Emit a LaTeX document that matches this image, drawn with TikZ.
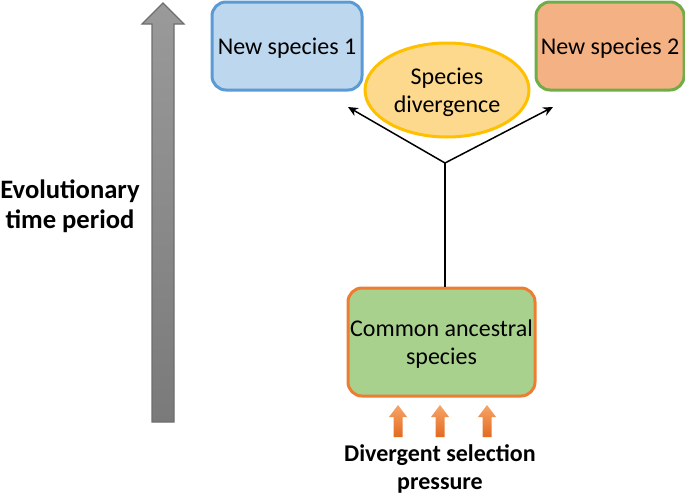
\documentclass[tikz,border=0pt]{standalone}
\usepackage{fontspec}
\setmainfont{Carlito}
\usepackage{tikz}
\usetikzlibrary{positioning,arrows.meta,calc,shapes.geometric}
\definecolor{spBlueFill}{HTML}{BDD7EE}
\definecolor{spBlueLine}{HTML}{5B9BD5}
\definecolor{spPeachFill}{HTML}{F4B183}
\definecolor{spGreenLine}{HTML}{70AD47}
\definecolor{spGoldFill}{HTML}{FDD98D}
\definecolor{spGoldLine}{HTML}{FFC000}
\definecolor{spGreenFill}{HTML}{A9D18E}
\definecolor{spOrangeLine}{HTML}{ED7D31}
\definecolor{spGrayTop}{HTML}{9A9A9A}
\definecolor{spGrayBot}{HTML}{7A7A7A}
\definecolor{spGrayLine}{HTML}{6E6E6E}
\definecolor{spOrgTop}{HTML}{F7A468}
\definecolor{spOrgBot}{HTML}{E36A20}

\begin{document}
\begin{tikzpicture}[
      x=0.5pt, y=-0.5pt,
      font=\fontsize{12}{14}\selectfont,
      box/.style={draw, line width=1.5pt, rounded corners=7pt, align=center,
        inner sep=0pt, text depth=0pt},
      bold/.style={font=\fontsize{12}{14}\selectfont\bfseries, align=center},
      branch/.style={line width=0.75pt, -{Stealth[length=5pt,width=4.5pt]}}
    ]
      \useasboundingbox (0,0) rectangle (685,498);

      % time axis
      \shade[top color=spGrayTop, bottom color=spGrayBot, draw=spGrayLine, line width=0.6pt]
        (152,422) -- (152,24) -- (142,24) -- (163,3) -- (184,24) -- (174,24)
        -- (174,422) -- cycle;
      \node[bold, font=\fontsize{13.3}{15}\selectfont\bfseries] (period) at (70,206)
        {Evolutionary\\time period};

      % species
      \node[box, draw=spBlueLine, fill=spBlueFill, minimum width=75pt, minimum height=44pt]
        (new1) at (287,46) {New species 1};
      \node[box, draw=spGreenLine, fill=spPeachFill, minimum width=74pt, minimum height=44pt]
        (new2) at (610,46) {New species 2};
      \node[ellipse, draw=spGoldLine, fill=spGoldFill, line width=1.5pt, align=center,
        inner sep=0pt, text depth=0pt, minimum width=82pt, minimum height=47pt]
        (diverge) at (447,90) {Species\\divergence};
      \node[box, draw=spOrangeLine, fill=spGreenFill, minimum width=93.5pt, minimum height=54pt]
        (common) at (441.5,342) {Common ancestral\\species};

      % branching
      \coordinate (fork) at (445,163);
      \coordinate (tipL) at (348,107);
      \coordinate (tipR) at (553,107);
      \draw[line width=0.75pt] (common.north -| fork) -- (fork);
      \draw[branch] (fork) -- (tipL);
      \draw[branch] (fork) -- (tipR);

      % selection pressure
      \foreach \x in {398,440,487} {
        \shade[top color=spOrgTop, bottom color=spOrgBot]
          (\x-4.5,437) -- (\x-4.5,417) -- (\x-9,417) -- (\x,405) -- (\x+9,417)
          -- (\x+4.5,417) -- (\x+4.5,437) -- cycle;
      }
      \node[bold] (pressure) at (440,469) {Divergent selection\\pressure};
    \end{tikzpicture}
\end{document}
